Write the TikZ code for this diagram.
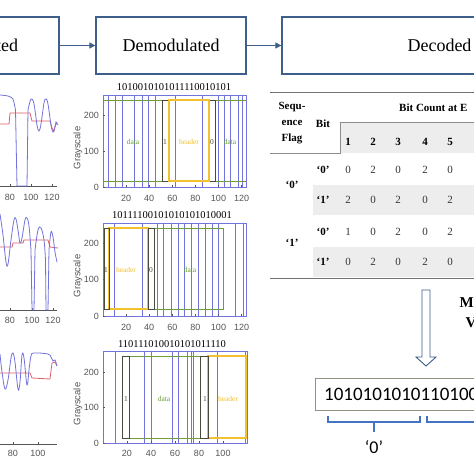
\documentclass[tikz,border=0pt]{standalone}
\usepackage{fontspec}
\setmainfont{Liberation Serif}
\newfontfamily\axfont{Liberation Sans}
\newfontfamily\calfont{Carlito}
\usetikzlibrary{arrows.meta}
\definecolor{boxblue}{HTML}{3E5F8A}
\definecolor{plotblue}{HTML}{7373DD}
\definecolor{plotred}{HTML}{E0606A}
\definecolor{rgreen}{HTML}{6E9E3A}
\definecolor{ryellow}{HTML}{F2C12E}
\definecolor{rdark}{HTML}{4A4A3C}
\definecolor{tgray}{HTML}{EDEDED}
\definecolor{bracket}{HTML}{4472C4}
\definecolor{bitbox}{HTML}{8C9680}
\definecolor{axgray}{HTML}{555555}
\tikzset{
  topbox/.style={draw=boxblue, line width=1.3pt, inner sep=0pt, font=\fontsize{18}{20}\selectfont},
  conn/.style={draw=boxblue, line width=1.2pt, -{Triangle[length=6pt,width=6pt]}},
  sig/.style={plotblue, line width=0.8pt},
  ref/.style={plotred, line width=0.8pt},
  vline/.style={plotblue, line width=0.6pt},
  frame/.style={plotblue, line width=0.7pt},
  grect/.style={rgreen, line width=0.9pt},
  yrect/.style={ryellow, line width=1.5pt},
  drect/.style={rdark, line width=1pt},
  tick/.style={font=\axfont\fontsize{9}{10}\selectfont, text=axgray, inner sep=1pt},
  ylab/.style={font=\axfont\fontsize{9.5}{10}\selectfont, text=axgray, rotate=90},
  bits/.style={font=\fontsize{10.5}{12}\selectfont},
  glab/.style={font=\fontsize{7.5}{8}\selectfont, text=rgreen},
  ylab2/.style={font=\fontsize{7.5}{8}\selectfont, text=ryellow},
  dlab/.style={font=\fontsize{7.5}{8}\selectfont, text=rdark},
  th/.style={font=\bfseries\fontsize{11}{13}\selectfont, inner sep=0pt},
  td/.style={font=\fontsize{11}{13}\selectfont, text=black!80, inner sep=0pt},
  rule/.style={black!55, line width=1pt}
}
\begin{document}
\begin{tikzpicture}[x=1pt,y=-1pt]
\useasboundingbox (0,0) rectangle (474,474);
\fill[white] (0,0) rectangle (474,474);
\begin{scope}
\clip (0,0) rectangle (474,474);
% ---------- top boxes ----------
\node[topbox, minimum width=160pt, minimum height=57pt] (mod) at (-21,45.5) {Modulated};
\node[topbox, minimum width=150pt, minimum height=57pt] (demod) at (171,45.5) {Demodulated};
\node[topbox, minimum width=315pt, minimum height=57pt] (dec) at (439.5,45.5) {Decoded};
\draw[conn] (mod.east) -- (demod.west);
\draw[conn] (demod.east) -- (dec.west);

% ---------- left column (modulated signals) ----------
% row 1
\draw[axgray, line width=0.6pt] (0,186) -- (57,186);
\foreach \x/\t in {10/80,31/100,52/120}{\draw[axgray] (\x,186) -- (\x,184); \node[tick] at (\x,197) {\t};}
\draw[ref] plot coordinates {(0,124) (9,124) (10,113) (30,113) (32,121) (50,121) (52,128) (54,131) (56,122) (58,125)};
\draw[sig] plot[smooth, tension=0.4] coordinates {(0,95) (8,96) (13,99) (15.5,110)} -- (17,186) -- (27,186) -- (28,110)
  plot[smooth, tension=0.6] coordinates {(28,110) (31,99) (34,104) (37,125) (39,131) (41,124) (44,103) (46,99) (48,104) (51,125) (53,132) (55,127) (57,122)};
% row 2
\draw[axgray, line width=0.6pt] (0,310) -- (57,310);
\foreach \x/\t in {10/80,32/100,53/120}{\draw[axgray] (\x,310) -- (\x,308); \node[tick] at (\x,320) {\t};}
\draw[ref] plot coordinates {(0,247) (12,247) (13,243) (23,243) (24,240) (48,240) (50,247) (58,248)};
\draw[sig] plot[smooth, tension=0.6] coordinates {(0,214) (3,235) (6,262) (8,264) (11,240) (14,220) (16,219) (18,230) (20,243) (22,238) (25,220) (27,218) (29,226) (31,250)} -- (32,310) -- (34,310) -- (35,250)
  plot[smooth, tension=0.6] coordinates {(35,250) (38,230) (41,228) (44,240) (45.5,260)} -- (46,310) -- (48,310) -- (49,250)
  plot[smooth, tension=0.6] coordinates {(49,250) (51,232) (53,237) (55,252) (57,262)};
% row 3
\draw[axgray, line width=0.6pt] (0,444) -- (57,444);
\foreach \x/\t in {13/80,38/100}{\draw[axgray] (\x,444) -- (\x,442); \node[tick] at (\x,453) {\t};}
\draw[ref] plot coordinates {(0,373) (30,373) (32,378) (50,379) (52,363) (55,362) (57,366)};
\draw[sig] plot[smooth, tension=0.6] coordinates {(0,354) (2,372) (5,389) (8,380) (11,358) (13,353) (15,362) (18,389) (20,382) (22,355) (24,358) (27,385) (29,370) (31,356) (34,353) (48,354) (51,357) (53,361) (55,360) (57,366)};

% ---------- middle column (demodulated) ----------
% row 1
\foreach \x in {108,115,122,134,142,148,155,175,202,218,224,230,238,242}{\draw[vline] (\x,95) -- (\x,187);}
\draw[grect] (103,100) rectangle (162,181);
\draw[grect] (215,100) rectangle (246,181);
\draw[drect] (162,100) rectangle (168,181);
\draw[drect] (209,100) rectangle (215,181);
\draw[yrect] (169,100) rectangle (209,181);
\draw[frame] (103,95) rectangle (246,187);
\node[glab] at (133,142) {data};
\node[dlab] at (165,142) {1};
\node[ylab2] at (189,142) {header};
\node[dlab] at (212,142) {0};
\node[glab] at (230,142) {data};
\node[bits] at (174,87) {1010010101011110010101};
\node[ylab] at (78,148) {Grayscale};
\foreach \y/\t in {187/0,151/100,115/200}{\draw[axgray] (103,\y) -- (105,\y); \node[tick, anchor=east] at (100,\y) {\t};}
\foreach \v in {20,40,...,120}{\draw[axgray] ({103+1.155*\v},187) -- ({103+1.155*\v},185); \node[tick] at ({103+1.155*\v},198) {\v};}
% row 2
\foreach \x in {114,142,157,163,171,178,184,191,198,205,212,218,235,243}{\draw[vline] (\x,223) -- (\x,316);}
\draw[grect] (154,228) rectangle (223,309);
\draw[yrect] (109,228) rectangle (148,309);
\draw[drect] (104,228) rectangle (109,309);
\draw[drect] (148,228) rectangle (154,309);
\draw[frame] (103,223) rectangle (246,316);
\node[dlab] at (106,270) {1};
\node[ylab2] at (126,270) {header};
\node[dlab] at (151,270) {0};
\node[glab] at (190,270) {data};
\node[bits] at (172,215) {10111100101010101010001};
\node[ylab] at (78,276) {Grayscale};
\foreach \y/\t in {316/0,279/100,243/200}{\draw[axgray] (103,\y) -- (105,\y); \node[tick, anchor=east] at (100,\y) {\t};}
\foreach \v in {20,40,...,120}{\draw[axgray] ({103+1.155*\v},316) -- ({103+1.155*\v},314); \node[tick] at ({103+1.155*\v},327) {\v};}
% row 3
\foreach \x in {115,144,151,172,178,187,191,193,217,245}{\draw[vline] (\x,351) -- (\x,443);}
\draw[grect] (129,356) rectangle (200,438);
\draw[yrect] (208,356) rectangle (246,438);
\draw[drect] (122,356) rectangle (129,438);
\draw[drect] (200,356) rectangle (208,438);
\draw[frame] (103,351) rectangle (247,443);
\node[dlab] at (126,399) {1};
\node[glab] at (164,399) {data};
\node[dlab] at (205,399) {1};
\node[ylab2] at (228,399) {header};
\node[bits] at (172,344) {110111010010101011110};
\node[ylab] at (78,404) {Grayscale};
\foreach \y/\t in {443/0,407/100,372/200}{\draw[axgray] (103,\y) -- (105,\y); \node[tick, anchor=east] at (100,\y) {\t};}
\foreach \v in {20,40,...,100}{\draw[axgray] ({103+1.2*\v},443) -- ({103+1.2*\v},441); \node[tick] at ({103+1.2*\v},453) {\v};}

% ---------- table ----------
\fill[tgray] (340,122) rectangle (474,153);
\fill[tgray] (313,185) rectangle (474,215);
\fill[tgray] (313,247) rectangle (474,277);
\draw[rule] (270,92) -- (474,92);
\draw[black!45, line width=0.8pt] (270,153) -- (340,153) -- (340,122) -- (474,122);
\draw[rule] (270,278) -- (474,278);
\node[th, align=center] (seq) at (292,123) {Sequ-\\[3pt]ence\\[3pt]Flag};
\node[th] (bit) at (323,124) {Bit};
\node[th, anchor=west] (bc) at (399,108) {Bit Count at E};
\foreach \x/\n in {348/1,373/2,398/3,425/4,450/5}{\node[th] at (\x,142) {\n};}
\node[th] at (292,185) {‘0’};
\node[th] at (292,243) {‘1’};
\node[th] at (323,170) {‘0’};
\node[th] at (323,200) {‘1’};
\node[th] at (323,232) {‘0’};
\node[th] at (323,262) {‘1’};
\foreach \x/\a/\b/\c/\d in {348/0/2/1/0,373/2/0/0/2,398/0/2/2/0,425/2/0/0/2,450/0/2/2/0}{
  \node[td] at (\x,170) {\a};
  \node[td] at (\x,200) {\b};
  \node[td] at (\x,232) {\c};
  \node[td] at (\x,262) {\d};
}

% ---------- majority arrow ----------
\draw[boxblue, line width=0.9pt, fill=white] (422,290) -- (430,290) -- (430,357) -- (436,357) -- (426,366) -- (416,357) -- (422,357) -- cycle;
\node[font=\bfseries\fontsize{15}{17}\selectfont, anchor=west] at (456,303) {M};
\node[font=\bfseries\fontsize{15}{17}\selectfont, anchor=west] at (462,323) {V};

% ---------- bit string box ----------
\node[draw=bitbox, line width=1pt, minimum width=210pt, minimum height=32pt, anchor=north west] (bitsbox) at (315,378) {};
\node[font=\calfont\fontsize{19}{21}\selectfont, anchor=west, inner sep=0pt] (bstr) at (324,394) {1010101010110100};
\draw[bracket, line width=1.2pt] (328,416) |- (420,422) -- (420,416);
\draw[bracket, line width=1.2pt] (374,422) -- (374,432);
\draw[bracket, line width=1.2pt] (427,416) |- (540,422);
\draw[bracket, line width=1.2pt] (483,422) -- (483,432);
\node[font=\calfont\fontsize{18}{20}\selectfont] at (374,447) {‘0’};
\node[font=\calfont\fontsize{18}{20}\selectfont] at (483,447) {‘1’};
\end{scope}
\end{tikzpicture}
\end{document}
